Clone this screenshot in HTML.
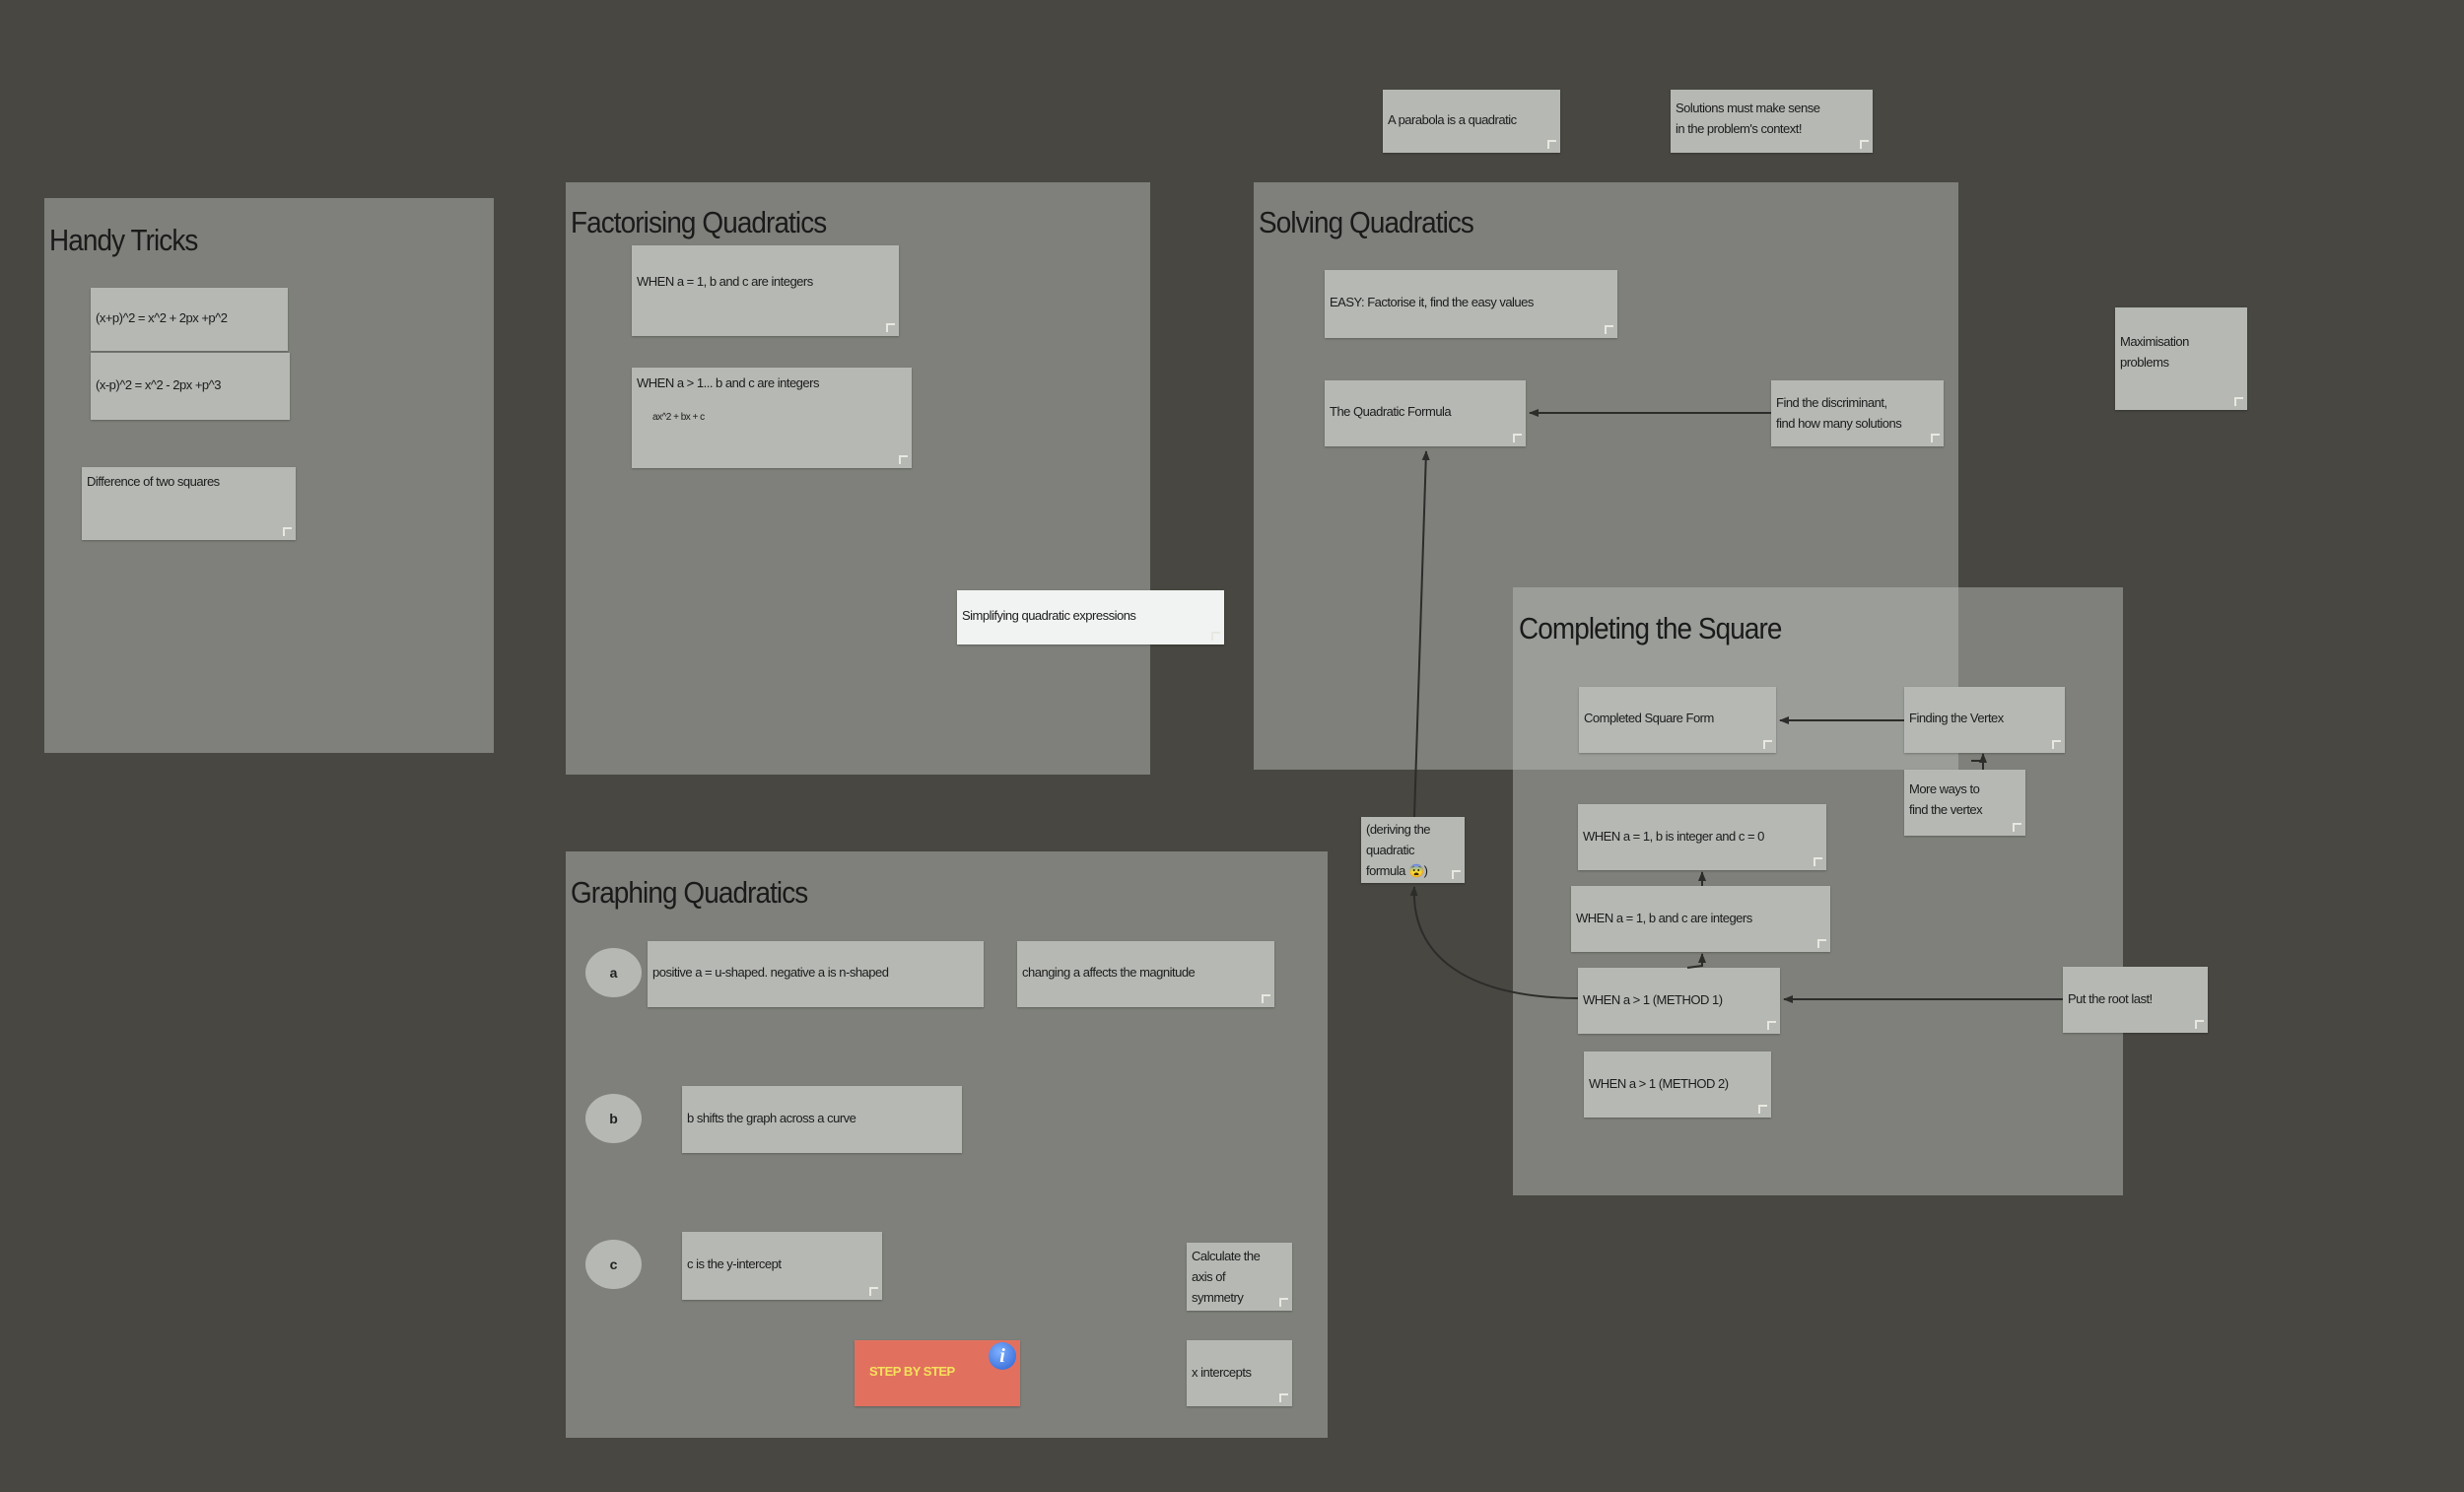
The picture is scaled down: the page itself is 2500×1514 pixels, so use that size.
<!DOCTYPE html>
<html><head><meta charset="utf-8"><style>
body{margin:0;width:2500px;height:1514px;background:#484741;position:relative;overflow:hidden;font-family:"Liberation Sans",sans-serif;}
.p{position:absolute;background:#7f807b;}
.t{position:absolute;font-size:31px;color:#1a1a1a;letter-spacing:-1px;transform:scaleX(0.9);transform-origin:left top;margin-top:4px}
.c{position:absolute;background:#b5b8b3;box-sizing:border-box;padding:0 4px 10px 5px;display:flex;align-items:center;font-size:13px;line-height:21px;color:#1c1c1c;letter-spacing:-0.5px;box-shadow:0 1px 2px rgba(0,0,0,.25);white-space:nowrap}
.c:after{content:"";position:absolute;right:4px;bottom:4px;width:7px;height:7px;border-left:2px solid #e8e8e0;border-top:2px solid #e8e8e0;}
.nc:after{display:none}
.o{position:absolute;background:#b5b8b3;border-radius:50%;font-size:14px;font-weight:bold;display:flex;align-items:center;justify-content:center;color:#222}
</style></head><body>
<div class="p" style="left:45px;top:201px;width:456px;height:563px"></div>
<div class="t" style="left:50px;top:222px">Handy Tricks</div>
<div class="p" style="left:574px;top:185px;width:593px;height:601px"></div>
<div class="t" style="left:579px;top:204px">Factorising Quadratics</div>
<div class="p" style="left:1272px;top:185px;width:715px;height:596px"></div>
<div class="t" style="left:1277px;top:204px">Solving Quadratics</div>
<div class="p" style="left:1535px;top:596px;width:619px;height:617px"></div>
<div class="p" style="left:1535px;top:596px;width:452px;height:185px;background:#9a9d98"></div>
<div class="t" style="left:1541px;top:616px">Completing the Square</div>
<div class="p" style="left:574px;top:864px;width:773px;height:595px"></div>
<div class="t" style="left:579px;top:884px">Graphing Quadratics</div>

<div class="c nc" style="left:92px;top:292px;width:200px;height:64px;padding-bottom:4px">(x+p)^2 = x^2 + 2px +p^2</div>
<div class="c nc" style="left:92px;top:358px;width:202px;height:68px;padding-bottom:4px">(x-p)^2 = x^2 - 2px +p^3</div>
<div class="c" style="left:83px;top:474px;width:217px;height:74px;align-items:flex-start;padding-top:4px">Difference of two squares</div>

<div class="c" style="left:641px;top:249px;width:271px;height:92px;padding-bottom:20px">WHEN a = 1, b and c are integers</div>
<div class="c" style="left:641px;top:373px;width:284px;height:102px;display:block;padding-top:5px">WHEN a &gt; 1... b and c are integers<div style="font-size:10px;margin:14px 0 0 16px">ax^2 + bx + c</div></div>
<div class="c" style="left:971px;top:599px;width:271px;height:55px;background:#f0f3f1;padding-bottom:4px">Simplifying quadratic expressions</div>

<div class="c" style="left:1403px;top:91px;width:180px;height:64px;padding-bottom:4px">A parabola is a quadratic</div>
<div class="c" style="left:1695px;top:91px;width:205px;height:64px;padding-bottom:6px">Solutions must make sense<br>in the problem's context!</div>
<div class="c" style="left:2146px;top:312px;width:134px;height:104px;padding-bottom:14px">Maximisation<br>problems</div>

<div class="c" style="left:1344px;top:274px;width:297px;height:69px;padding-bottom:4px">EASY: Factorise it, find the easy values</div>
<div class="c" style="left:1344px;top:386px;width:204px;height:67px;padding-bottom:4px">The Quadratic Formula</div>
<div class="c" style="left:1797px;top:386px;width:175px;height:67px;padding-bottom:2px">Find the discriminant,<br>find how many solutions</div>

<div class="c" style="left:1602px;top:697px;width:200px;height:67px;padding-bottom:4px">Completed Square Form</div>
<div class="c" style="left:1932px;top:697px;width:163px;height:67px;padding-bottom:4px">Finding the Vertex</div>
<div class="c" style="left:1932px;top:781px;width:123px;height:67px;padding-bottom:8px">More ways to<br>find the vertex</div>
<div class="c" style="left:1601px;top:816px;width:252px;height:67px;padding-bottom:2px">WHEN a = 1, b is integer and c = 0</div>
<div class="c" style="left:1594px;top:899px;width:263px;height:67px;padding-bottom:2px">WHEN a = 1, b and c are integers</div>
<div class="c" style="left:1601px;top:982px;width:205px;height:67px;padding-bottom:2px">WHEN a &gt; 1 (METHOD 1)</div>
<div class="c" style="left:1607px;top:1067px;width:190px;height:67px;padding-bottom:2px">WHEN a &gt; 1 (METHOD 2)</div>
<div class="c" style="left:2093px;top:981px;width:147px;height:67px;padding-bottom:2px">Put the root last!</div>
<div class="c" style="left:1381px;top:829px;width:105px;height:67px;padding-bottom:0;line-height:21px">(deriving the<br>quadratic<br>formula 😨)</div>

<div class="o" style="left:594px;top:962px;width:57px;height:50px">a</div>
<div class="o" style="left:594px;top:1110px;width:57px;height:50px">b</div>
<div class="o" style="left:594px;top:1258px;width:57px;height:50px">c</div>
<div class="c nc" style="left:657px;top:955px;width:341px;height:67px;padding-bottom:4px">positive a = u-shaped. negative a is n-shaped</div>
<div class="c" style="left:1032px;top:955px;width:261px;height:67px;padding-bottom:4px">changing a affects the magnitude</div>
<div class="c nc" style="left:692px;top:1102px;width:284px;height:68px;padding-bottom:4px">b shifts the graph across a curve</div>
<div class="c" style="left:692px;top:1250px;width:203px;height:69px;padding-bottom:4px">c is the y-intercept</div>
<div class="c" style="left:1204px;top:1261px;width:107px;height:69px;padding-bottom:0">Calculate the<br>axis of<br>symmetry</div>
<div class="c" style="left:1204px;top:1360px;width:107px;height:67px;padding-bottom:2px">x intercepts</div>
<div class="c nc" style="left:867px;top:1360px;width:168px;height:67px;background:#e2705f;color:#f5e15a;font-weight:bold;font-size:13px;padding-left:15px;padding-bottom:4px">STEP BY STEP</div>
<div style="position:absolute;left:1003px;top:1362px;width:28px;height:28px;border-radius:50%;background:radial-gradient(circle at 40% 35%,#7fb0ff,#2a5fd0);color:#fff;font:italic bold 20px 'Liberation Serif',serif;text-align:center;line-height:28px">i</div>

<svg width="2500" height="1514" style="position:absolute;left:0;top:0" fill="none" stroke="#2c2c2a" stroke-width="2">
<defs><marker id="a" markerWidth="10" markerHeight="10" refX="9" refY="5" orient="auto" markerUnits="userSpaceOnUse"><path d="M0,1 L10,5 L0,9 z" fill="#2c2c2a" stroke="none"/></marker></defs>
<path d="M1797,419 L1552,419" marker-end="url(#a)"/>
<path d="M1435,829 L1447,458" marker-end="url(#a)"/>
<path d="M1601,1013 C1480,1012 1432,965 1435,900" marker-end="url(#a)"/>
<path d="M2093,1014 L1810,1014" marker-end="url(#a)"/>
<path d="M1932,731 L1806,731" marker-end="url(#a)"/>
<path d="M2000,772 L2012,772 L2012,766"/>
<path d="M2012,781 L2012,765" marker-end="url(#a)"/>
<path d="M1727,899 L1727,885" marker-end="url(#a)"/>
<path d="M1712,982 L1727,980 L1727,968" marker-end="url(#a)"/>
</svg>
</body></html>
